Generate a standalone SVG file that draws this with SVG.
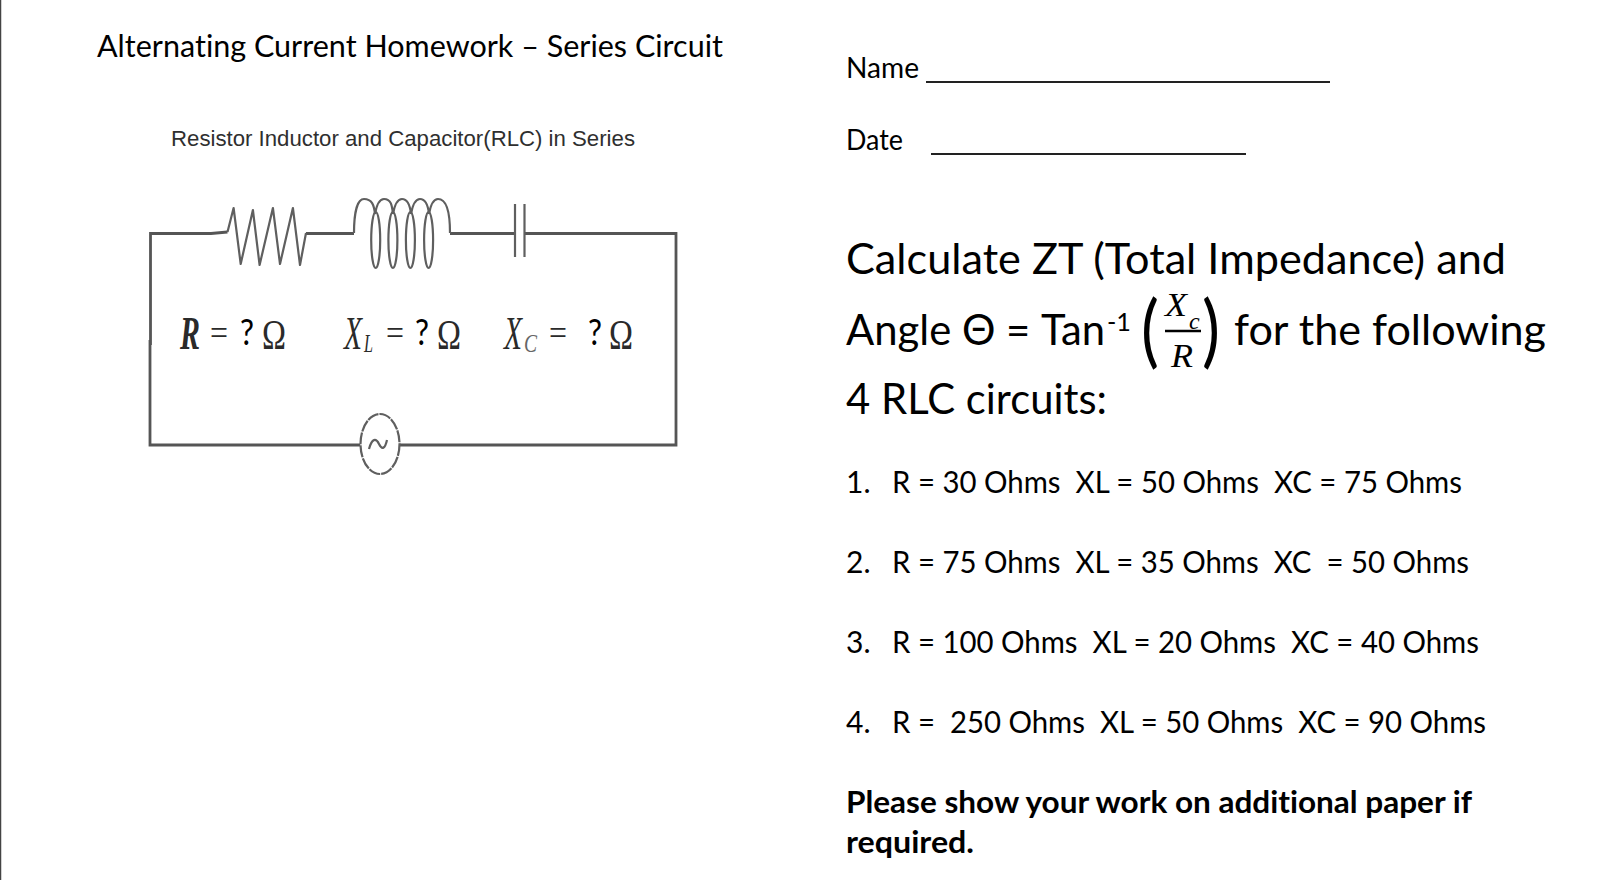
<svg xmlns="http://www.w3.org/2000/svg" width="1597" height="880" viewBox="0 0 1597 880">
<style>
text{font-family:"Lato","Open Sans","Liberation Sans",sans-serif;fill:#000;font-variant-ligatures:none}
.t{font-size:30px}
.big{font-size:43px}
.li{font-size:30px}
.b{font-size:30px;font-weight:700}
.s{font-family:"Liberation Serif",serif;fill:#2a2a2a}
.i{font-style:italic}
.w{fill:none;stroke:#555;stroke-width:2.8}
.c{fill:none;stroke:#5f5f5f;stroke-width:2.2}
.rule{stroke:#222;stroke-width:2}
.m{font-family:"Liberation Serif",serif;font-style:italic}
</style>
<rect width="1597" height="880" fill="#fff"/>
<line x1="0.5" y1="0" x2="0.5" y2="880" stroke="#444" stroke-width="1.5"/>
<g id="header">
<text class="t" x="97" y="57" textLength="626" lengthAdjust="spacingAndGlyphs">Alternating Current Homework – Series Circuit</text>
<text class="t" x="846" y="78" textLength="73" lengthAdjust="spacingAndGlyphs" style="font-size:28px">Name</text>
<line class="rule" x1="926" y1="82" x2="1330" y2="82"/>
<text class="t" x="846" y="150" textLength="57" lengthAdjust="spacingAndGlyphs" style="font-size:28px">Date</text>
<line class="rule" x1="931" y1="154" x2="1246" y2="154"/>
</g>
<g id="circuit-title">
<text x="171" y="146" textLength="464" lengthAdjust="spacingAndGlyphs" style="font-family:'Liberation Sans',sans-serif;font-size:22px;fill:#2f2f2f">Resistor Inductor and Capacitor(RLC) in Series</text>
</g>
<g id="connectors">
<path class="w" d="M150.500 345V233.500H211L227.500 232M306 233.500H354M450 233.500H515M525 233.500H676V445H399M360 445H150V340"/>
</g>
<g id="resistor">
<path class="c" stroke-linejoin="round" d="M227.500 232L233.600 208L240.700 264L252.900 210L259.600 265L272.900 208L280 264L292.900 208L300 265L306 233"/>
</g>
<g id="inductor">
<path class="c" d="M354 233C354 214 357 199 364 199C372 199 374 205 375 214C377 203 380 199 384 199C391 199 392 205 393 214C395 203 398 199 402 199C408 199 410 205 411 214C413 203 416 199 420 199C426 199 428 205 429 214C431 203 434 199 438 199C446 199 450 210 450 233"/>
<ellipse class="c" cx="375.700" cy="240" rx="4.500" ry="28"/>
<ellipse class="c" cx="392.900" cy="240" rx="4.500" ry="28"/>
<ellipse class="c" cx="410.400" cy="240" rx="4.500" ry="28"/>
<ellipse class="c" cx="428.600" cy="240" rx="4.500" ry="28"/>
</g>
<g id="capacitor">
<path class="c" d="M515 204V257M524.500 204V257"/>
</g>
<g id="source">
<ellipse cx="380" cy="444" rx="19.500" ry="30" fill="#fff" stroke="#5f5f5f" stroke-width="2.200" stroke-dasharray="12 1"/>
<path class="c" d="M369 449C372 438 376 438 379 444C382 450 385 449 387 440" stroke="#888"/>
</g>
<g id="labels">
<text class="s i" x="180" y="349" font-size="46" textLength="20" lengthAdjust="spacingAndGlyphs" font-weight="700">R</text>
<text class="s" x="210" y="345" font-size="36" textLength="18" lengthAdjust="spacingAndGlyphs">=</text>
<text x="240" y="345" font-size="36" textLength="14" lengthAdjust="spacingAndGlyphs">?</text>
<text class="s" x="262" y="349" font-size="42" textLength="24" lengthAdjust="spacingAndGlyphs">Ω</text>
<text class="s i" x="344" y="349" font-size="46" textLength="18" lengthAdjust="spacingAndGlyphs">X</text>
<text class="s i" x="364" y="352" font-size="26" textLength="9" lengthAdjust="spacingAndGlyphs">L</text>
<text class="s" x="386" y="345" font-size="36" textLength="18" lengthAdjust="spacingAndGlyphs">=</text>
<text x="415" y="345" font-size="36" textLength="14" lengthAdjust="spacingAndGlyphs">?</text>
<text class="s" x="437" y="349" font-size="42" textLength="24" lengthAdjust="spacingAndGlyphs">Ω</text>
<text class="s i" x="504" y="349" font-size="46" textLength="18" lengthAdjust="spacingAndGlyphs">X</text>
<text class="s i" x="524" y="352" font-size="26" textLength="13" lengthAdjust="spacingAndGlyphs" fill="#666" style="fill:#666">C</text>
<text class="s" x="549" y="345" font-size="36" textLength="18" lengthAdjust="spacingAndGlyphs">=</text>
<text x="588" y="345" font-size="36" textLength="14" lengthAdjust="spacingAndGlyphs">?</text>
<text class="s" x="609" y="349" font-size="42" textLength="24" lengthAdjust="spacingAndGlyphs">Ω</text>
</g>
<g id="question">
<text class="big" x="846" y="274" textLength="660" lengthAdjust="spacingAndGlyphs">Calculate ZT (Total Impedance) and</text>
<text class="big" x="846" y="345" textLength="259" lengthAdjust="spacingAndGlyphs">Angle Θ = Tan</text>
<text x="1107" y="331" font-size="25" textLength="24" lengthAdjust="spacingAndGlyphs">-1</text>
<text x="1141" y="358" font-size="80" textLength="18" lengthAdjust="spacingAndGlyphs">(</text>
<text class="m" x="1165" y="316" font-size="34" textLength="22" lengthAdjust="spacingAndGlyphs">X</text>
<text class="m" x="1189" y="329" font-size="24">c</text>
<line x1="1165" y1="331" x2="1201" y2="331" stroke="#000" stroke-width="2.500"/>
<text class="m" x="1171" y="367" font-size="34" textLength="22" lengthAdjust="spacingAndGlyphs">R</text>
<text x="1202" y="358" font-size="80" textLength="18" lengthAdjust="spacingAndGlyphs">)</text>
<text class="big" x="1234" y="345" textLength="312" lengthAdjust="spacingAndGlyphs">for the following</text>
<text class="big" x="846" y="414" textLength="261" lengthAdjust="spacingAndGlyphs">4 RLC circuits:</text>
</g>
<g id="list">
<text class="li" x="846" y="493">1.</text>
<text class="li" x="892" y="493" textLength="570" lengthAdjust="spacingAndGlyphs" xml:space="preserve">R = 30 Ohms  XL = 50 Ohms  XC = 75 Ohms</text>
<text class="li" x="846" y="573">2.</text>
<text class="li" x="892" y="573" textLength="577" lengthAdjust="spacingAndGlyphs" xml:space="preserve">R = 75 Ohms  XL = 35 Ohms  XC  = 50 Ohms</text>
<text class="li" x="846" y="653">3.</text>
<text class="li" x="892" y="653" textLength="587" lengthAdjust="spacingAndGlyphs" xml:space="preserve">R = 100 Ohms  XL = 20 Ohms  XC = 40 Ohms</text>
<text class="li" x="846" y="733">4.</text>
<text class="li" x="892" y="733" textLength="594" lengthAdjust="spacingAndGlyphs" xml:space="preserve">R =  250 Ohms  XL = 50 Ohms  XC = 90 Ohms</text>
</g>
<g id="note">
<text class="b" x="846" y="813" textLength="626" lengthAdjust="spacingAndGlyphs">Please show your work on additional paper if</text>
<text class="b" x="846" y="853" textLength="128" lengthAdjust="spacingAndGlyphs">required.</text>
</g>
</svg>
